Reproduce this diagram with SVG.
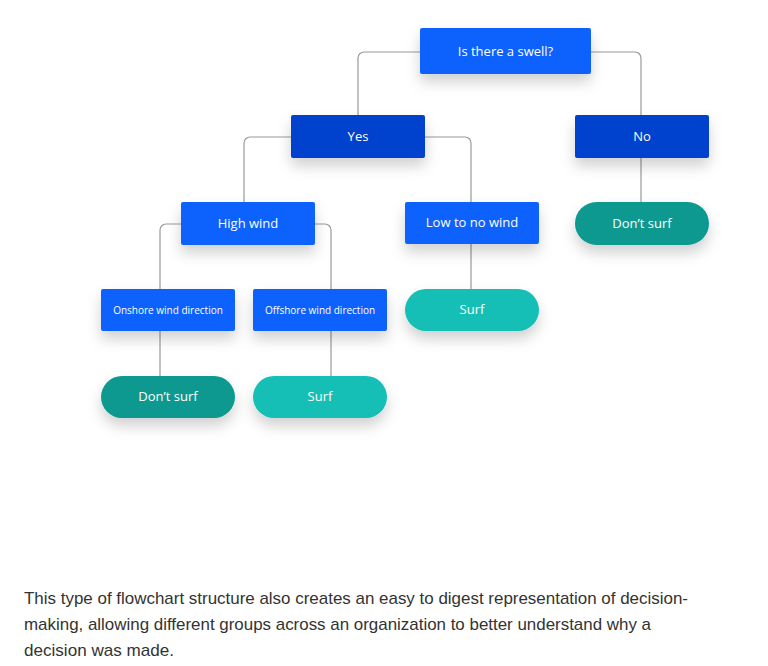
<svg xmlns="http://www.w3.org/2000/svg" width="768" height="666" viewBox="0 0 768 666">
<defs>
<filter id="sh" x="-30%" y="-30%" width="160%" height="190%"><feDropShadow dx="0" dy="8" stdDeviation="7" flood-color="#000" flood-opacity="0.18"/></filter>
<style>
.b{fill:#1062fe;filter:url(#sh)}
.d{fill:#0043ce;filter:url(#sh)}
.t1{fill:#08998f;filter:url(#sh)}
.t2{fill:#14bfb5;filter:url(#sh)}
.l{font-family:"Open Sans","Liberation Sans",sans-serif;fill:#fff;text-anchor:middle;font-size:13px}
.s{font-size:10px}
.c{fill:none;stroke:#9a9a9a;stroke-width:1.2}
.p{font-family:"Liberation Sans",sans-serif;font-size:17px;fill:#333}
</style>
</defs>
<rect width="768" height="666" fill="#fff"/>
<g id="connectors">
<path class="c" d="M420 52H364a6 6 0 0 0-6 6V115"/>
<path class="c" d="M591 52H635a6 6 0 0 1 6 6V115"/>
<path class="c" d="M291 137H250a6 6 0 0 0-6 6V202"/>
<path class="c" d="M425 137H465a6 6 0 0 1 6 6V202"/>
<path class="c" d="M181 224H166a6 6 0 0 0-6 6V289"/>
<path class="c" d="M315 224H325a6 6 0 0 1 6 6V289"/>
<path class="c" d="M641 158V202M471 244V289M160 331V376M331 331V376"/>
</g>
<g id="swell"><rect class="b" x="420" y="28" width="171" height="46" rx="2"/><text class="l" x="505.5" y="56">Is there a swell?</text></g>
<g id="yes"><rect class="d" x="291" y="115" width="134" height="43" rx="2"/><text class="l" x="358" y="141">Yes</text></g>
<g id="no"><rect class="d" x="575" y="115" width="134" height="43" rx="2"/><text class="l" x="642" y="141">No</text></g>
<g id="highwind"><rect class="b" x="181" y="202" width="134" height="43" rx="2"/><text class="l" x="248" y="228">High wind</text></g>
<g id="lowwind"><rect class="b" x="405" y="202" width="134" height="42" rx="2"/><text class="l" x="472" y="227">Low to no wind</text></g>
<g id="dontsurf1"><rect class="t1" x="575" y="202" width="134" height="43" rx="21.5"/><text class="l" x="642" y="228">Don’t surf</text></g>
<g id="onshore"><rect class="b" x="101" y="289" width="134" height="42" rx="2"/><text class="l s" x="168" y="314">Onshore wind direction</text></g>
<g id="offshore"><rect class="b" x="253" y="289" width="134" height="42" rx="2"/><text class="l s" x="320" y="314">Offshore wind direction</text></g>
<g id="surf1"><rect class="t2" x="405" y="289" width="134" height="42" rx="21"/><text class="l" x="472" y="314">Surf</text></g>
<g id="dontsurf2"><rect class="t1" x="101" y="376" width="134" height="42" rx="21"/><text class="l" x="168" y="401">Don’t surf</text></g>
<g id="surf2"><rect class="t2" x="253" y="376" width="134" height="42" rx="21"/><text class="l" x="320" y="401">Surf</text></g>
<g id="caption">
<text class="p" x="24" y="604" textLength="664" lengthAdjust="spacingAndGlyphs">This type of flowchart structure also creates an easy to digest representation of decision-</text>
<text class="p" x="24" y="630" textLength="627" lengthAdjust="spacingAndGlyphs">making, allowing different groups across an organization to better understand why a</text>
<text class="p" x="24" y="656" textLength="150" lengthAdjust="spacingAndGlyphs">decision was made.</text>
</g>
</svg>
